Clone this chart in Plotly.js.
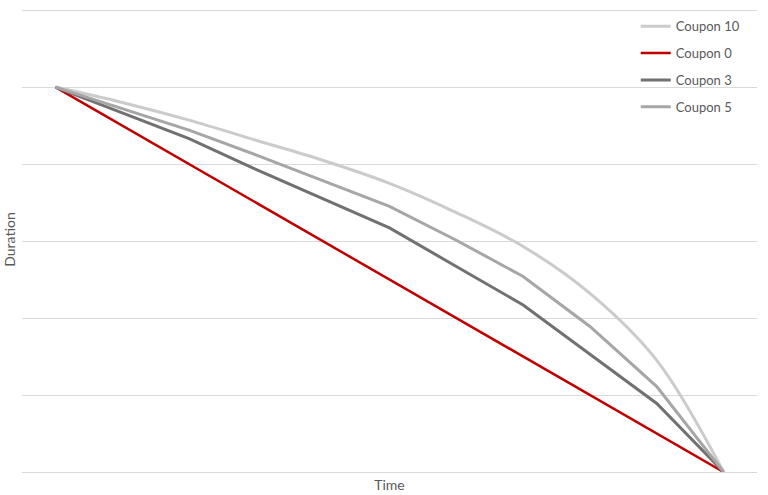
<!DOCTYPE html>
<html>
<head>
<meta charset="utf-8">
<script src="https://cdn.plot.ly/plotly-3.0.1.min.js"></script>
<style>
  html, body { margin: 0; padding: 0; background: #fff; }
  #chart { width: 768px; height: 495px; }
</style>
</head>
<body>
<div id="chart"></div>
<script>
// время до погашения (шаги) и дюрация по купонам
var time = [0, 1, 2, 3, 4, 5, 6, 7, 8, 9, 10];
var coupon10 = [5, 4.80, 4.57, 4.31, 4.05, 3.75, 3.37, 2.93, 2.32, 1.45, 0];
var coupon0  = [5, 4.5, 4, 3.5, 3, 2.5, 2, 1.5, 1, 0.5, 0];
var coupon3  = [5, 4.67, 4.33, 3.93, 3.55, 3.17, 2.67, 2.17, 1.53, 0.89, 0];
var coupon5  = [5, 4.72, 4.44, 4.12, 3.79, 3.45, 3.01, 2.54, 1.89, 1.11, 0];

var fontFam = 'Lato, "Open Sans", sans-serif';

function mkTrace(name, y, color, width, shape) {
  return {
    x: time,
    y: y,
    type: 'scatter',
    mode: 'lines',
    name: name,
    legendgroup: name,
    line: {color: color, width: width, shape: shape}
  };
}

var data = [
  mkTrace('Coupon 10', coupon10, '#cbcbcb', 3, 'spline'),
  mkTrace('Coupon 0', coupon0, '#c00000', 2.5, 'linear'),
  mkTrace('Coupon 3', coupon3, '#717171', 3, 'linear'),
  mkTrace('Coupon 5', coupon5, '#a6a6a6', 3, 'linear')
];

var layout = {
  width: 768,
  height: 495,
  margin: {l: 22, r: 11, t: 7, b: 23},
  paper_bgcolor: '#fff',
  plot_bgcolor: '#fff',
  font: {family: fontFam, size: 13, color: '#595959'},
  showlegend: true,
  legend: {
    x: 0.835, y: 0.991, xanchor: 'left', yanchor: 'top',
    bgcolor: 'rgba(0,0,0,0)',
    traceorder: 'grouped',
    tracegroupgap: 7,
    font: {family: fontFam, size: 13, color: '#595959'}
  },
  xaxis: {
    range: [-0.5, 10.5],
    showticklabels: false,
    ticks: '',
    showgrid: false,
    zeroline: false,
    showline: false,
    title: {text: 'Time', standoff: 8, font: {family: fontFam, size: 14, color: '#595959'}}
  },
  yaxis: {
    range: [0, 6.04],
    tick0: 0,
    dtick: 1,
    showticklabels: false,
    ticks: '',
    gridcolor: '#d9d9d9',
    gridwidth: 1,
    zeroline: true,
    zerolinecolor: '#d9d9d9',
    zerolinewidth: 1,
    showline: false,
    title: {text: 'Duration', standoff: 2, font: {family: fontFam, size: 14, color: '#595959'}}
  }
};

Plotly.newPlot('chart', data, layout, {displayModeBar: false, staticPlot: true});
</script>
</body>
</html>
